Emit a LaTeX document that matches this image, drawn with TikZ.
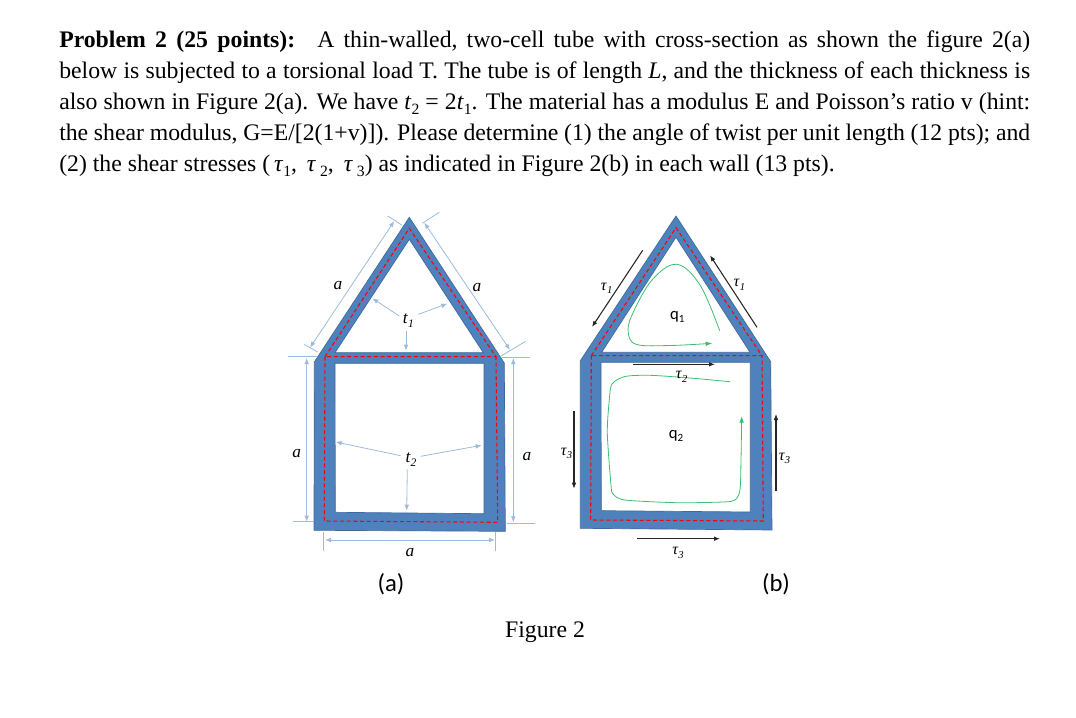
\documentclass[tikz,border=0pt]{standalone}
\usepackage{fontspec}
\setmainfont{Liberation Serif}
\newfontfamily\calib{Carlito}
\usetikzlibrary{arrows.meta}
\definecolor{wallblue}{HTML}{4F81BD}
\definecolor{walledge}{HTML}{3F6A9C}
\definecolor{dimblue}{HTML}{9DBBDD}
\definecolor{loopgreen}{HTML}{3DBE70}
\newcommand{\lowsub}[1]{\raisebox{-0.22em}{\scalebox{0.66}{#1}}}
\newcommand{\itlab}[2]{\textit{#1}\lowsub{\textit{#2}}}
\tikzset{
 wall/.style={fill=wallblue,draw=walledge,line width=0.5pt,even odd rule},
 centre/.style={draw=red,densely dashed,line width=0.8pt},
 dimline/.style={draw=dimblue,line width=0.6pt},
 dimarrow/.style={dimline,{Latex[length=4.5pt,width=3.5pt]}-{Latex[length=4.5pt,width=3.5pt]}},
 leader/.style={dimline,-{Latex[length=4.5pt,width=3.5pt]}},
 stress/.style={draw=black!85,line width=0.8pt,-{Latex[length=4.5pt,width=3.5pt]}},
 flow/.style={draw=loopgreen,line width=0.6pt,-{Latex[length=5pt,width=3.5pt]}},
 bodytext/.style={anchor=base west,inner sep=0pt,font=\fontsize{17.8pt}{21pt}\selectfont},
 symb/.style={inner sep=0pt,font=\fontsize{13pt}{15pt}\selectfont},
 taulab/.style={inner sep=0pt,font=\fontsize{12pt}{14pt}\selectfont},
 sflab/.style={inner sep=0pt,font=\calib\fontsize{12.5pt}{14pt}\selectfont},
 panel/.style={inner sep=0pt,font=\calib\fontsize{18.5pt}{21pt}\selectfont},
 figcap/.style={inner sep=0pt,font=\fontsize{17.8pt}{21pt}\selectfont}
}
\begin{document}
\begin{tikzpicture}[x=0.75pt,y=-0.75pt]
\useasboundingbox (0,0) rectangle (1076,718);
% body text
\node[bodytext] (l1) at (59,47) {\hbox to 728.25pt{\hbox to 177pt{\textbf{Problem\hfill 2\hfill (25\hfill points):}}\hspace{16.5pt}A\hfill thin-walled,\hfill two-cell\hfill tube\hfill with\hfill cross-section\hfill as\hfill shown\hfill the\hfill figure\hfill 2(a)}};
\node[bodytext] (l2) at (59,78) {\hbox to 728.25pt{below is subjected to a torsional load T. The tube is of length \textit{L}, and the thickness of each thickness is}};
\node[bodytext] (l3) at (59,109) {\hbox to 728.25pt{also shown in Figure 2(a). We have \textit{t}\lowsub{2} = 2\textit{t}\lowsub{1}. The material has a modulus E and Poisson’s ratio v (hint:}};
\node[bodytext] (l4) at (59,140) {\hbox to 728.25pt{the shear modulus, G=E/[2(1+v)]). Please determine (1) the angle of twist per unit length (12 pts); and}};
\node[bodytext] (l5) at (59,171) {(2) the shear stresses (\,\textit{τ}\lowsub{1}, \,\textit{τ}\,\lowsub{2}, \,\textit{τ}\,\lowsub{3}) as indicated in Figure 2(b) in each wall (13 pts).};

% ---- left section
\path[wall] (409.3,217.3) -- (504.3,363) -- (505.3,531.3) -- (314,530.3) -- (314.3,362) -- cycle
 (409.3,239.3) -- (483.3,352.7) -- (335,352.7) -- cycle
 (335,363.3) -- (484,363.3) -- (484,513.7) -- (335.3,512.3) -- cycle;
\draw[centre] (325,356.7) -- (409.3,228.3) -- (496,356.7) -- cycle;
\draw[centre] (325,356.7) -- (324.3,521) -- (497.7,522.3) -- (496,356.7);
% extension lines
\coordinate (e1a) at (387.7,216); \coordinate (e1b) at (401.7,225);
\coordinate (e2a) at (304,344.3); \coordinate (e2b) at (317.7,352);
\coordinate (e3a) at (439.3,212.3); \coordinate (e3b) at (422.3,223.3);
\coordinate (e4a) at (525.7,341.3); \coordinate (e4b) at (501,356);
\coordinate (e5a) at (288,356); \coordinate (e5b) at (316.7,356);
\coordinate (e6a) at (501.7,357.3); \coordinate (e6b) at (530,357.3);
\coordinate (e7a) at (293,521.7); \coordinate (e7b) at (314,521.7);
\coordinate (e8a) at (506.7,523); \coordinate (e8b) at (535,523);
\coordinate (e9a) at (323.3,532.3); \coordinate (e9b) at (323.3,550.7);
\coordinate (e10a) at (495.7,532.3); \coordinate (e10b) at (495.7,550.7);
\foreach \n in {1,...,10} \draw[dimline] (e\n a) -- (e\n b);
% dimension arrows
\coordinate (d1a) at (394.3,221); \coordinate (d1b) at (310,347.7);
\coordinate (d2a) at (424.3,222.7); \coordinate (d2b) at (510,350);
\coordinate (d3a) at (306.7,358); \coordinate (d3b) at (306.7,521.7);
\coordinate (d4a) at (513.3,358); \coordinate (d4b) at (513.3,522.3);
\coordinate (d5a) at (325,540); \coordinate (d5b) at (495,540);
\foreach \n in {1,...,5} \draw[dimarrow] (d\n a) -- (d\n b);
% labels
\node[symb] (a1) at (338,286) {\textit{a}};
\node[symb] (a2) at (477,288) {\textit{a}};
\node[symb] (a3) at (296.7,453.3) {\textit{a}};
\node[symb] (a4) at (527,456.7) {\textit{a}};
\node[symb] (a5) at (410,553) {\textit{a}};
\node[symb] (t1) at (408.3,321) {\itlab{t}{1}};
\node[symb] (t2) at (411,460) {\itlab{t}{2}};
% thickness leaders
\coordinate (t1s1) at (399.3,316); \coordinate (t1e1) at (372.3,298.3);
\coordinate (t1s2) at (418.3,314.3); \coordinate (t1e2) at (447.3,303.7);
\coordinate (t1s3) at (406,330.7); \coordinate (t1e3) at (406,350.7);
\coordinate (t2s1) at (400.7,455.7); \coordinate (t2e1) at (335.7,442);
\coordinate (t2s2) at (420.7,456.3); \coordinate (t2e2) at (481.7,445.3);
\coordinate (t2s3) at (407.3,469.3); \coordinate (t2e3) at (406.7,510.7);
\foreach \k in {1,2}\foreach \n in {1,2,3} \draw[leader] (t\k s\n) -- (t\k e\n);
\node[panel] (pa) at (391,584) {(a)};

% ---- right section
\path[wall] (676,216) -- (770.7,361.7) -- (772,530) -- (580.3,528.3) -- (580.3,360.7) -- cycle
 (676,237.3) -- (750,352.3) -- (601.7,352.3) -- cycle
 (601,362.3) -- (750.3,362.3) -- (750.3,512) -- (601.3,510.7) -- cycle;
\draw[centre] (591.3,355.7) -- (676,227.7) -- (762,355.7) -- cycle;
\draw[centre] (591.3,355.7) -- (590.7,520) -- (763.3,521) -- (762,355.7);
% stress arrows
\coordinate (s1a) at (642.7,250.3); \coordinate (s1b) at (592,327);
\coordinate (s2a) at (757,327.3); \coordinate (s2b) at (710,255.3);
\coordinate (s3a) at (632.7,364.3); \coordinate (s3b) at (715,364.3);
\coordinate (s4a) at (574,411); \coordinate (s4b) at (574,488.7);
\coordinate (s5a) at (776,491); \coordinate (s5b) at (776,414);
\coordinate (s6a) at (637.3,538.7); \coordinate (s6b) at (720,538.7);
\foreach \n in {1,...,6} \draw[stress] (s\n a) -- (s\n b);
% shear flow loops
\draw[flow] plot[smooth,tension=0.6] coordinates {(719.7,330.7) (700,285) (676.7,264.3) (652,280) (632,315) (628.3,333) (636.7,344.5) (670,345.5) (712.3,343.3)};
\draw[flow] plot[smooth,tension=0.45] coordinates {(730,381.7) (690,378) (650,375.3) (625,376.5) (612,384) (609.3,400) (607.3,433) (611,485) (613,494) (625,500) (676.7,502.7) (723,502) (735,500) (740,490) (741,460) (741.7,416)};
% labels
\node[taulab] (tau1l) at (606.7,288.3) {\itlab{τ}{1}};
\node[taulab] (tau1r) at (739.3,285) {\itlab{τ}{1}};
\node[taulab] (tau2) at (681.7,376.7) {\itlab{τ}{2}};
\node[taulab] (tau3l) at (566.5,453.3) {\itlab{τ}{3}};
\node[taulab] (tau3r) at (784.5,458.3) {\itlab{τ}{3}};
\node[taulab] (tau3b) at (678,552.7) {\itlab{τ}{3}};
\node[sflab] (q1) at (677.3,317) {q\lowsub{1}};
\node[sflab] (q2) at (676,436) {q\lowsub{2}};
\node[panel] (pb) at (776,584) {(b)};
\node[figcap] (fig) at (545,632) {Figure 2};
\end{tikzpicture}
\end{document}
